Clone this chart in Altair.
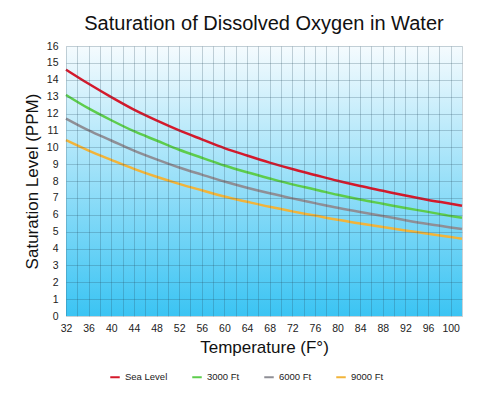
import altair as alt
import pandas as pd

temps = [32, 36, 40, 44, 48, 52, 56, 60, 64, 68, 72, 76, 80, 84, 88, 92, 96, 100, 102]
sea_level = [14.6, 13.76, 12.97, 12.23, 11.59, 11.0, 10.47, 9.95, 9.51, 9.09, 8.71, 8.36, 8.01, 7.70, 7.42, 7.14, 6.88, 6.65, 6.53]
ft_3000 = [13.1, 12.3, 11.6, 10.95, 10.4, 9.85, 9.38, 8.92, 8.52, 8.15, 7.8, 7.5, 7.18, 6.9, 6.65, 6.4, 6.17, 5.93, 5.82]
ft_6000 = [11.7, 11.0, 10.4, 9.8, 9.28, 8.8, 8.38, 7.97, 7.6, 7.27, 6.97, 6.69, 6.41, 6.16, 5.93, 5.68, 5.45, 5.25, 5.15]
ft_9000 = [10.42, 9.8, 9.25, 8.72, 8.25, 7.83, 7.45, 7.08, 6.77, 6.47, 6.2, 5.95, 5.7, 5.48, 5.27, 5.07, 4.88, 4.68, 4.58]

x_grid = list(range(32, 103, 2))
y_grid = list(range(0, 17))

series_names = ["Sea Level", "3000 Ft", "6000 Ft", "9000 Ft"]
series_colors = ["#d5192b", "#5dcd4c", "#8f8f96", "#f2b43a"]

rows = []
for name, vals in zip(series_names, [sea_level, ft_3000, ft_6000, ft_9000]):
    for t, v in zip(temps, vals):
        rows.append({"Temperature": t, "PPM": v, "Series": name})
df = pd.DataFrame(rows)

FONT = "Liberation Sans"
W, H = 396, 270

xscale = alt.Scale(domain=[32, 102], nice=False, zero=False)
yscale = alt.Scale(domain=[0, 16], nice=False)

bg = alt.Chart(pd.DataFrame({"a": [0]})).mark_rect(
    color=alt.Gradient(
        gradient="linear",
        stops=[alt.GradientStop(color="#f5fbfe", offset=0),
               alt.GradientStop(color="#3bc4f3", offset=1)],
        x1=0, x2=0, y1=0, y2=1,
    )
).encode(
    x=alt.value(0), x2=alt.value(W),
    y=alt.value(0), y2=alt.value(H),
)

lines = alt.Chart(df).mark_line(strokeWidth=2.5, interpolate="monotone").encode(
    x=alt.X("Temperature:Q", scale=xscale,
            axis=alt.Axis(values=x_grid, labelOverlap=False, labelFlush=False, zindex=1,
                          labelExpr="datum.value % 4 == 0 && datum.value <= 100 ? datum.label : ''",
                          title="Temperature (F°)")),
    y=alt.Y("PPM:Q", scale=yscale,
            axis=alt.Axis(values=y_grid, labelOverlap=False, labelFlush=False, zindex=1,
                          title="Saturation Level (PPM)")),
    color=alt.Color("Series:N",
                    scale=alt.Scale(domain=series_names, range=series_colors),
                    sort=series_names,
                    legend=alt.Legend(title=None, orient="none", direction="horizontal",
                                      legendX=43, legendY=325, symbolType="stroke",
                                      symbolSize=90, symbolStrokeWidth=2,
                                      columnPadding=20, labelFontSize=9.5,
                                      labelFont=FONT, labelColor="#222222")),
)

chart = alt.layer(bg, lines).properties(
    width=W, height=H,
    autosize=alt.AutoSizeParams(type="none"),
    padding={"left": 58, "top": 38, "right": 16, "bottom": 76},
    title=alt.Title("Saturation of Dissolved Oxygen in Water", font=FONT,
                    fontSize=20, fontWeight="normal", color="#111111", offset=7),
).configure_axis(
    grid=True, gridColor="#284a5e", gridOpacity=0.25, gridWidth=1,
    domain=False, ticks=False,
    labelFont=FONT, labelFontSize=10.5, labelColor="#222222", labelPadding=8,
    titleFont=FONT, titleFontSize=17, titleFontWeight="normal", titleColor="#111111",
).configure_axisY(titlePadding=5).configure_axisX(titlePadding=6, labelPadding=7).configure_view(stroke=None)

chart.save("out.html", embed_options={"renderer": "svg", "actions": False})
